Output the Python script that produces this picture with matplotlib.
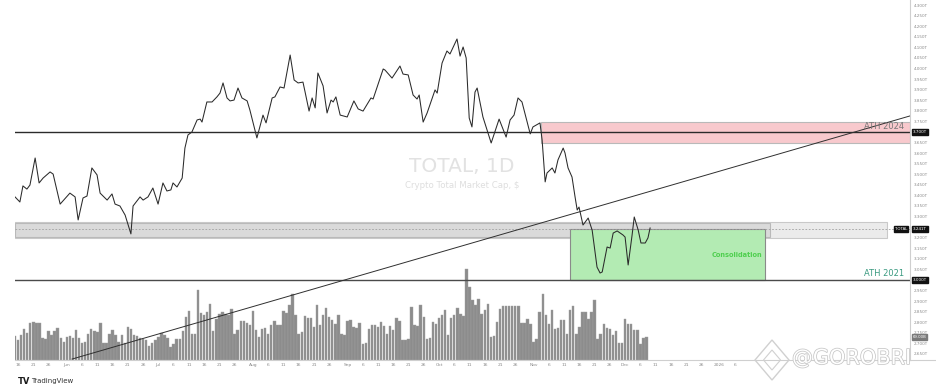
import datetime as dt
import matplotlib
matplotlib.use("Agg")
import matplotlib.pyplot as plt
import matplotlib.patches as mpatches
import matplotlib.patheffects as pe
import matplotlib.transforms as mtrans
from matplotlib import font_manager

# ---------------- data ----------------
start_date = dt.date(2025, 5, 15)

# TOTAL crypto market cap (trillion $); x = days since start_date
price_days = [0, 1.6, 2.6, 3.9, 4.9, 6.6, 7.9, 9.2, 11.5, 12.5, 14.8, 18.0, 19.7, 20.7, 22.3, 23.6,
              25.2, 26.9, 27.9, 30.2, 31.8, 32.8, 34.4, 36.1, 38.0, 38.7, 41.0, 42.0, 43.6, 45.2,
              46.9, 48.5, 49.8, 51.1, 51.8, 53.1, 54.8, 55.7, 56.7, 58.0, 59.7, 60.7, 61.3, 62.9,
              64.6, 66.2, 67.2, 68.2, 69.5, 70.5, 71.8, 73.1, 74.4, 76.1, 77.0, 79.3, 81.3, 82.3,
              84.3, 85.2, 86.9, 88.2, 90.2, 91.5, 92.8, 94.4, 95.1, 96.4, 97.4, 98.4, 99.3, 101.0,
              102.3, 103.6, 104.3, 105.2, 106.6, 108.9, 111.1, 112.5, 114.1, 116.7, 117.4, 120.7,
              121.3, 123.6, 126.2, 127.2, 128.9, 130.5, 131.8, 132.5, 133.8, 135.1, 137.7, 138.4,
              140.0, 141.6, 142.6, 144.9, 145.9, 146.9, 147.9, 148.9, 149.8, 150.8, 151.5, 153.4,
              156.1, 158.7, 161.0, 162.3, 163.6, 164.9, 166.2, 168.9, 169.8, 172.1, 172.8, 173.8,
              174.4, 176.1, 177.0, 178.0, 179.7, 180.3, 181.3, 182.6, 183.6, 184.3, 184.9, 186.2,
              187.9, 189.2, 190.8, 191.8, 192.5, 194.1, 195.1, 196.1, 197.4, 199.3, 200.0, 201.0,
              202.3, 203.0, 204.3, 205.2, 206.6, 207.5, 208.2]
price_vals = [3.393, 3.369, 3.445, 3.430, 3.449, 3.577, 3.459, 3.482, 3.511, 3.501, 3.359, 3.411,
              3.393, 3.284, 3.388, 3.397, 3.530, 3.497, 3.411, 3.378, 3.407, 3.359, 3.350, 3.307,
              3.218, 3.350, 3.393, 3.378, 3.393, 3.435, 3.359, 3.459, 3.421, 3.426, 3.459, 3.440,
              3.482, 3.624, 3.686, 3.700, 3.757, 3.761, 3.747, 3.842, 3.842, 3.866, 3.884, 3.932,
              3.861, 3.847, 3.851, 3.908, 3.861, 3.847, 3.804, 3.672, 3.780, 3.743, 3.861, 3.866,
              3.913, 3.908, 4.064, 3.946, 3.932, 3.936, 3.889, 3.799, 3.861, 3.814, 3.979, 3.918,
              3.790, 3.851, 3.842, 3.866, 3.780, 3.771, 3.847, 3.809, 3.799, 3.861, 3.856, 3.998,
              3.993, 3.955, 4.012, 3.974, 3.970, 3.875, 3.856, 3.875, 3.747, 3.790, 3.899, 3.884,
              4.026, 4.083, 4.069, 4.140, 4.059, 4.102, 4.050, 3.766, 3.724, 3.889, 3.908, 3.771,
              3.648, 3.761, 3.676, 3.757, 3.780, 3.861, 3.842, 3.691, 3.724, 3.743, 3.662, 3.464,
              3.506, 3.530, 3.506, 3.568, 3.624, 3.601, 3.530, 3.487, 3.393, 3.331, 3.345, 3.260,
              3.293, 3.236, 3.061, 3.033, 3.038, 3.156, 3.151, 3.222, 3.232, 3.213, 3.203, 3.071,
              3.213, 3.298, 3.236, 3.175, 3.175, 3.199, 3.246]

# daily volume (billion $), one bar per day from start_date
volume = [71, 59, 76, 92, 81, 112, 114, 112, 112, 66, 64, 86, 74, 86, 96, 66, 54, 69, 71, 66,
          89, 67, 52, 54, 79, 94, 86, 84, 112, 52, 51, 79, 89, 74, 54, 76, 52, 99, 92, 76,
          72, 66, 62, 61, 42, 51, 59, 69, 81, 74, 66, 39, 49, 62, 64, 86, 129, 146, 79, 79,
          209, 142, 134, 144, 169, 86, 124, 137, 144, 139, 134, 152, 79, 91, 116, 116, 112, 104, 146, 89,
          69, 92, 96, 79, 106, 116, 104, 104, 146, 141, 166, 199, 134, 79, 84, 131, 126, 126, 99, 166,
          104, 134, 156,
          129, 119, 109, 136, 79, 74, 116, 119, 99, 96, 111, 49, 52, 94, 104, 106, 99, 114, 101, 79,
          102, 89, 126, 116, 59, 59, 62, 159, 104, 102, 166, 129, 62, 66, 114, 109, 126, 136, 149, 76,
          126, 136, 156, 139, 131, 274, 219, 179, 164, 184, 139, 149, 169, 69, 72, 114, 154, 161, 161, 161,
          161, 161, 161, 111, 111, 124, 109, 54, 64, 144, 199, 134, 109, 151, 94, 96, 119, 119, 79, 149,
          162, 79, 99, 144, 144, 122, 144, 179, 64, 79, 109, 96, 92, 76, 86, 52, 52, 124, 107, 107,
          89, 89, 49, 66, 69]

# levels / zones (trillion $) and their day ranges
ath_2024 = 3.700
ath_2021 = 3.000
pink_zone = (3.648, 3.747, 172.5)          # low, high, start day
gray_zone = (3.203, 3.270, 247.5)          # low, high, end day (inner box)
gray_zone_outer = (3.199, 3.274, 285.9)
consol_zone = (3.000, 3.241, 182.0, 245.9)  # low, high, start day, end day
last_price = 3.241
trend_start = (18.7, 2.626)
trend_end = (293.4, 3.776)

# ---------------- figure ----------------
W, H = 936, 387
fig = plt.figure(figsize=(W / 100, H / 100), dpi=100)
fig.patch.set_facecolor("white")
ax_left, ax_bottom = 15 / W, (H - 360) / H
ax_w, ax_h = 895 / W, 360 / H

axv = fig.add_axes([ax_left, ax_bottom, ax_w, ax_h])
ax = fig.add_axes([ax_left, ax_bottom, ax_w, ax_h], sharex=axv)
ax.patch.set_alpha(0)

xmax = 293.4
axv.set_xlim(0, xmax)
axv.set_ylim(0, 1080)
axv.bar(range(len(volume)), volume, width=0.8, color="#8c8c8c", edgecolor="#a0a0a0",
        linewidth=0.3, zorder=1)
axv.set_yticks([])
for s in axv.spines.values():
    s.set_visible(False)

ax.set_ylim(2.6216, 4.3243)
ax.set_xlim(0, xmax)

# zones
ax.add_patch(mpatches.Rectangle((0, gray_zone_outer[0]), gray_zone_outer[2],
                                gray_zone_outer[1] - gray_zone_outer[0],
                                facecolor="#ebebeb", edgecolor="#c9c9c9", lw=0.8, zorder=1))
ax.add_patch(mpatches.Rectangle((0, gray_zone[0]), gray_zone[2], gray_zone[1] - gray_zone[0],
                                facecolor="#dadada", edgecolor="#b9b9b9", lw=0.8, zorder=1.2))
ax.add_patch(mpatches.Rectangle((pink_zone[2], pink_zone[0]), xmax - pink_zone[2],
                                pink_zone[1] - pink_zone[0],
                                facecolor="#f8c9cd", edgecolor="#b9b9b9", lw=0.8, zorder=1))
ax.add_patch(mpatches.Rectangle((consol_zone[2], consol_zone[0]), consol_zone[3] - consol_zone[2],
                                consol_zone[1] - consol_zone[0],
                                facecolor="#b3ebb3", edgecolor="#8a8a8a", lw=0.8, zorder=1.5))

ax.axhline(last_price, color="#a0a0a0", lw=0.6, ls=(0, (2, 2)), zorder=2)
ax.axhline(ath_2024, color="#2b2b2b", lw=1.0, zorder=2)
ax.axhline(ath_2021, color="#4a4a4a", lw=1.0, zorder=2)

ax.plot([trend_start[0], trend_end[0]], [trend_start[1], trend_end[1]],
        color="#2f2f2f", lw=0.7, zorder=3)
ax.plot(price_days, price_vals, color="#2a2a2a", lw=0.75, zorder=4)

# labels
ax.text(291.6, ath_2024 + 0.004, "ATH 2024", ha="right", va="bottom", fontsize=6,
        color="#777777", zorder=5)
ax.text(291.6, ath_2021 + 0.008, "ATH 2021", ha="right", va="bottom", fontsize=6,
        color="#3a9a80", zorder=5)
ax.text(245.0, 3.118, "Consolidation", ha="right", va="center", fontsize=4.8,
        color="#4fcf4f", fontweight="bold", zorder=5)
ax.text(146.6, 3.535, "TOTAL, 1D", ha="center", va="center", fontsize=14.5,
        color="#e2e2e2", zorder=0.5)
ax.text(146.6, 3.449, "Crypto Total Market Cap, $", ha="center", va="center", fontsize=6.2,
        color="#dedede", zorder=0.5)

# right price scale
vol_tag_price = 2.730
ticks = [round(2.65 + 0.05 * i, 2) for i in range(34)]
ticks = [t for t in ticks if min(abs(t - v) for v in (ath_2024, last_price, ath_2021,
                                                        vol_tag_price)) > 0.02]
ax.yaxis.tick_right()
ax.set_yticks(ticks)
ax.set_yticklabels([f"{t:.3f}T" for t in ticks], fontsize=3.0, color="#8a8a8a")
ax.tick_params(axis="y", length=0, pad=3)

trans = mtrans.blended_transform_factory(ax.transAxes, ax.transData)
for val in (ath_2024, last_price, ath_2021):
    ax.text(1.003, val, f"{val:.3f}T", transform=trans, fontsize=3.0, color="white",
            va="center", ha="left", bbox=dict(boxstyle="square,pad=0.25", fc="#111111",
                                              ec="#111111"), zorder=6, clip_on=False)
ax.text(0.997, last_price, "TOTAL", transform=trans, fontsize=2.8, color="white",
        va="center", ha="right", bbox=dict(boxstyle="square,pad=0.25", fc="#111111", ec="#111111"),
        zorder=6, clip_on=False)
transv = mtrans.blended_transform_factory(axv.transAxes, axv.transData)
axv.text(1.003, volume[-1], f"{volume[-1]:.2f}B", transform=transv, fontsize=2.8, color="white",
         va="center", ha="left", bbox=dict(boxstyle="square,pad=0.25", fc="#7a7a7a", ec="#7a7a7a"),
         clip_on=False)

# date axis
month_names = {1: "2026", 2: "Feb", 3: "Mar", 5: "May", 6: "Jun", 7: "Jul", 8: "Aug", 9: "Sep",
               10: "Oct", 11: "Nov", 12: "Dec"}
tick_pos, tick_lab = [], []
d = start_date
while d <= dt.date(2026, 1, 6):
    if d.day in (1, 6, 11, 16, 21, 26):
        tick_pos.append((d - start_date).days)
        tick_lab.append(month_names[d.month] if d.day == 1 else str(d.day))
    d += dt.timedelta(days=1)
ax.set_xticks(tick_pos)
ax.set_xticklabels(tick_lab, fontsize=3.2, color="#8a8a8a")
ax.tick_params(axis="x", length=0, pad=2)
axv.tick_params(axis="x", length=0, labelbottom=False)

for k, s in ax.spines.items():
    s.set_visible(k in ("right", "bottom"))
    s.set_color("#cfcfcf")
    s.set_linewidth(0.8)
fig.add_artist(plt.Line2D([910 / W, 1.0], [ax_bottom, ax_bottom], color="#cfcfcf", lw=0.8))

# TradingView mark
fig.text(18 / W, 1 - 381 / H, "TV", fontsize=6, fontweight="bold", color="#1b1b1b",
         va="center", ha="left")
fig.text(31 / W, 1 - 381 / H, "TradingView", fontsize=5, color="#333333", va="center", ha="left")

# author watermark
cx, cy = 772 / W, 1 - 360 / H
dx, dy = 17 / W, 20 / H
fig.add_artist(mpatches.Polygon([(cx - dx, cy), (cx, cy + dy), (cx + dx, cy), (cx, cy - dy)],
                                closed=True, fill=False, ec="#d0d0d0", lw=1.0))
fig.add_artist(mpatches.Polygon([(cx - dx / 2, cy), (cx, cy + dy / 2), (cx + dx / 2, cy),
                                 (cx, cy - dy / 2)], closed=True, fill=False, ec="#d0d0d0", lw=0.8))
names = {f.name for f in font_manager.fontManager.ttflist}
wm_family = "Liberation Sans Narrow" if "Liberation Sans Narrow" in names else "DejaVu Sans"
wm_size = 19.5 if wm_family == "Liberation Sans Narrow" else 15
fig.text(792 / W, 1 - 358 / H, "@GOROBRI", fontsize=wm_size, family=wm_family, color="white",
         va="center", ha="left",
         path_effects=[pe.withStroke(linewidth=1.1, foreground="#c6c6c6")])

fig.savefig("out.png", dpi=100, facecolor="white")
